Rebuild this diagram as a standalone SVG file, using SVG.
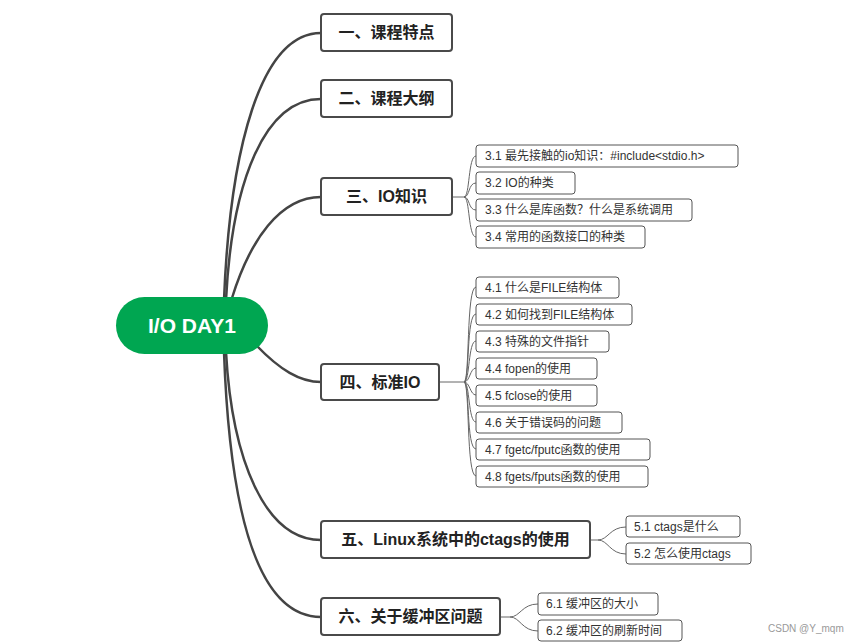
<svg xmlns="http://www.w3.org/2000/svg" width="863" height="643" viewBox="0 0 863 643">
<style>
.main{fill:#fff;stroke:#4a4a4a;stroke-width:2}
.sub{fill:#fff;stroke:#555;stroke-width:1}
.mt{font-family:"Liberation Sans","Noto Sans CJK SC",sans-serif;font-size:16px;font-weight:bold;fill:#222}
.st{font-family:"Liberation Sans","Noto Sans CJK SC",sans-serif;font-size:12px;fill:#333}
.thick{fill:none;stroke:#444;stroke-width:2.5}
.thin{fill:none;stroke:#666;stroke-width:1}
</style>
<rect width="863" height="643" fill="#fff"/>
<g id="connectors">
<path class="thick" d="M224,300 C230,150 260,33 321,33"/>
<path class="thick" d="M226,300 C232,180 265,99 321,99"/>
<path class="thick" d="M232,298 C250,240 280,197 321,197"/>
<path class="thick" d="M256,345 C280,370 300,382 321,382"/>
<path class="thick" d="M226,352 C232,460 265,540 321,540"/>
<path class="thick" d="M224,352 C230,520 260,617 321,617"/>
<path class="thin" d="M452,197 H464 M464,197 C470,197 468,156 476,156 M464,197 C470,197 468,183 476,183 M464,197 C470,197 468,210 476,210 M464,197 C470,197 468,237 476,237"/>
<path class="thin" d="M439,382 H464 M464,382 C470,382 466,287 476,287 M464,382 C470,382 466,314 476,314 M464,382 C470,382 468,341 476,341 M464,382 C470,382 470,368 476,368 M464,382 C470,382 470,395 476,395 M464,382 C470,382 468,422 476,422 M464,382 C470,382 466,449 476,449 M464,382 C470,382 466,476 476,476"/>
<path class="thin" d="M590,540 H598 C608,540 610,527 626,527 M598,540 C608,540 610,554 626,554"/>
<path class="thin" d="M500,617 H510 C520,617 522,604 538,604 M510,617 C520,617 522,631 538,631"/>
</g>
<g id="root"><rect x="116" y="297" width="152" height="57" rx="28.5" fill="#00a651"/><text x="192" y="333" text-anchor="middle" font-family="Liberation Sans,sans-serif" font-size="21" font-weight="bold" fill="#fff">I/O DAY1</text></g>
<g id="n1"><rect class="main" x="321" y="14" width="131" height="37" rx="3"/><text class="mt" x="386.5" y="38" text-anchor="middle">一、课程特点</text></g>
<g id="n2"><rect class="main" x="321" y="80" width="131" height="37" rx="3"/><text class="mt" x="386.5" y="104" text-anchor="middle">二、课程大纲</text></g>
<g id="n3"><rect class="main" x="321" y="178" width="131" height="37" rx="3"/><text class="mt" x="386.5" y="202" text-anchor="middle">三、IO知识</text></g>
<g id="n4"><rect class="main" x="321" y="364" width="118" height="36" rx="3"/><text class="mt" x="380" y="388" text-anchor="middle">四、标准IO</text></g>
<g id="n5"><rect class="main" x="321" y="521" width="269" height="37" rx="3"/><text class="mt" x="455.5" y="545" text-anchor="middle">五、Linux系统中的ctags的使用</text></g>
<g id="n6"><rect class="main" x="321" y="598" width="179" height="37" rx="3"/><text class="mt" x="410.5" y="622" text-anchor="middle">六、关于缓冲区问题</text></g>
<g id="s31"><rect class="sub" x="476" y="145" width="262" height="22" rx="3"/><text class="st" x="485" y="160">3.1    最先接触的io知识：#include&lt;stdio.h&gt;</text></g>
<g id="s32"><rect class="sub" x="476" y="172" width="99" height="22" rx="3"/><text class="st" x="485" y="187">3.2    IO的种类</text></g>
<g id="s33"><rect class="sub" x="476" y="199" width="216" height="22" rx="3"/><text class="st" x="485" y="214">3.3    什么是库函数？什么是系统调用</text></g>
<g id="s34"><rect class="sub" x="476" y="226" width="169" height="22" rx="3"/><text class="st" x="485" y="241">3.4    常用的函数接口的种类</text></g>
<g id="s41"><rect class="sub" x="476" y="277" width="143" height="21" rx="3"/><text class="st" x="485" y="292">4.1    什么是FILE结构体</text></g>
<g id="s42"><rect class="sub" x="476" y="304" width="156" height="21" rx="3"/><text class="st" x="485" y="319">4.2    如何找到FILE结构体</text></g>
<g id="s43"><rect class="sub" x="476" y="331" width="133" height="21" rx="3"/><text class="st" x="485" y="346">4.3    特殊的文件指针</text></g>
<g id="s44"><rect class="sub" x="476" y="358" width="121" height="21" rx="3"/><text class="st" x="485" y="373">4.4    fopen的使用</text></g>
<g id="s45"><rect class="sub" x="476" y="385" width="121" height="21" rx="3"/><text class="st" x="485" y="400">4.5    fclose的使用</text></g>
<g id="s46"><rect class="sub" x="476" y="412" width="146" height="21" rx="3"/><text class="st" x="485" y="427">4.6    关于错误码的问题</text></g>
<g id="s47"><rect class="sub" x="476" y="439" width="174" height="21" rx="3"/><text class="st" x="485" y="454">4.7    fgetc/fputc函数的使用</text></g>
<g id="s48"><rect class="sub" x="476" y="466" width="172" height="21" rx="3"/><text class="st" x="485" y="481">4.8    fgets/fputs函数的使用</text></g>
<g id="s51"><rect class="sub" x="626" y="516" width="114" height="21" rx="3"/><text class="st" x="634" y="531">5.1    ctags是什么</text></g>
<g id="s52"><rect class="sub" x="626" y="543" width="125" height="21" rx="3"/><text class="st" x="634" y="558">5.2    怎么使用ctags</text></g>
<g id="s61"><rect class="sub" x="538" y="593" width="120" height="22" rx="3"/><text class="st" x="546" y="608">6.1    缓冲区的大小</text></g>
<g id="s62"><rect class="sub" x="538" y="620" width="144" height="21" rx="3"/><text class="st" x="546" y="635">6.2    缓冲区的刷新时间</text></g>
<text x="768" y="632" font-family="Liberation Sans,sans-serif" font-size="10" fill="#999">CSDN @Y_mqm</text>
</svg>
